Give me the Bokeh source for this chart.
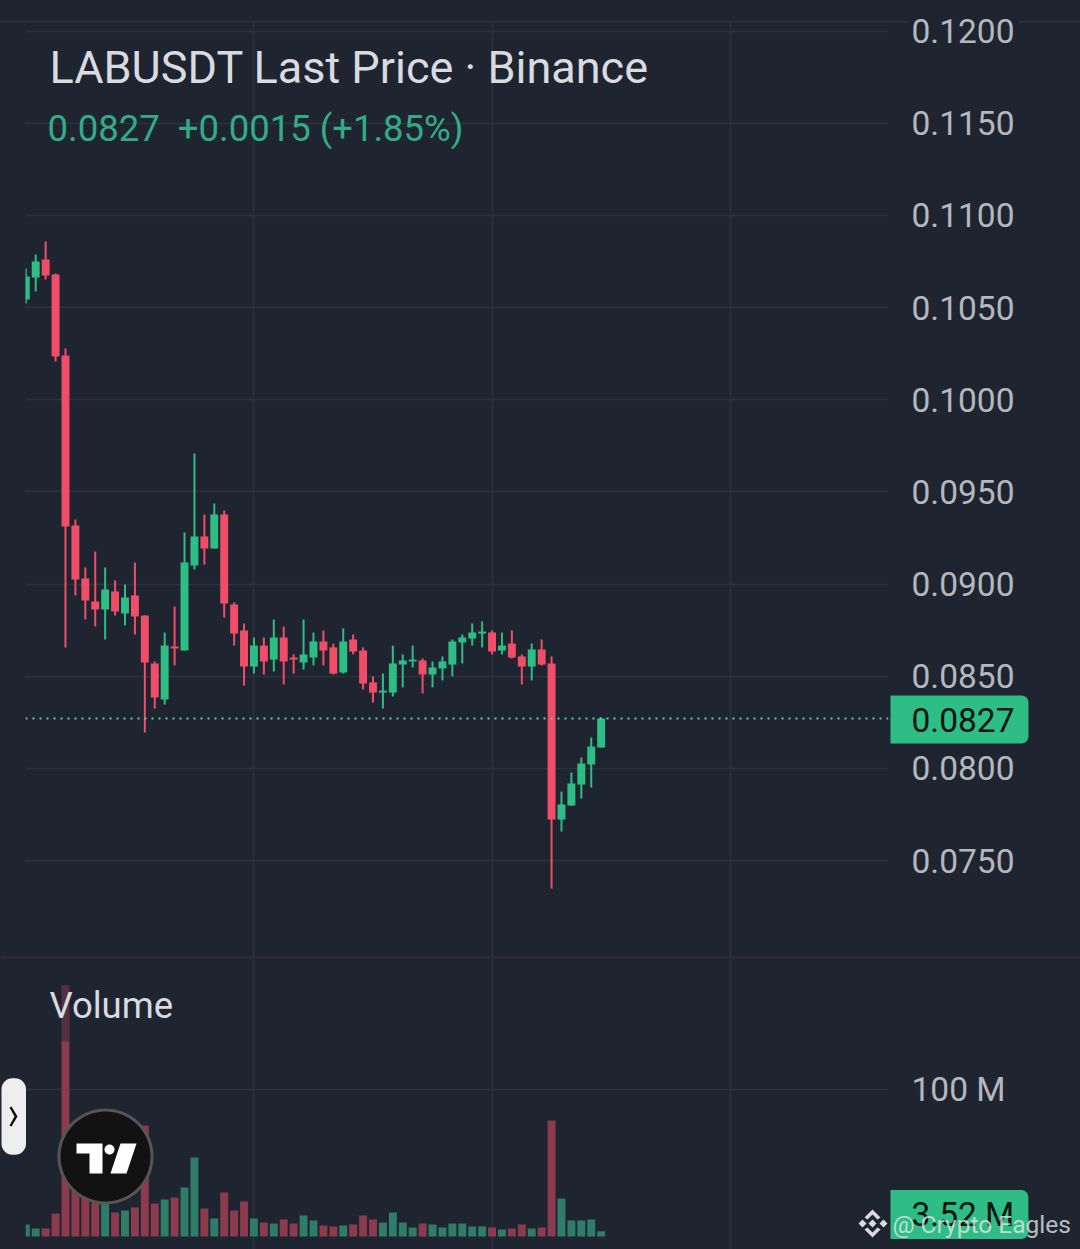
import numpy as np
from bokeh.embed import file_html
from bokeh.resources import INLINE
from bokeh.plotting import figure
from bokeh.layouts import column
from bokeh.models import (ColumnDataSource, FixedTicker, Label, Span, BoxAnnotation,
                          PolyAnnotation, NumeralTickFormatter, PrintfTickFormatter, Range1d)

# ---- data ----
price_open = [0.10543,0.10663,0.10760,0.10679,0.10240,0.09317,0.09030,0.08905,0.08862,0.08959,0.08840,0.08938,0.08829,0.08569,0.08373,0.08661,0.08639,0.09100,0.09258,0.09193,0.09377,0.08889,0.08748,0.08552,0.08666,0.08590,0.08710,0.08601,0.08574,0.08601,
              0.08688,0.08656,0.08520,0.08699,0.08639,0.08466,0.08411,0.08411,0.08563,0.08580,0.08585,0.08509,0.08542,0.08563,0.08683,0.08704,0.08731,0.08737,0.08639,0.08677,0.08607,0.08552,0.08645,0.08569,0.07722,0.07798,0.07912,0.08021,0.08113]
price_high = [0.10712,0.10788,0.10858,0.10684,0.10278,0.09350,0.09090,0.09176,0.09090,0.09019,0.08997,0.09117,0.08829,0.08580,0.08737,0.08878,0.09279,0.09708,0.09377,0.09437,0.09399,0.08900,0.08786,0.08710,0.08710,0.08807,0.08769,0.08618,0.08807,0.08737,
              0.08748,0.08677,0.08759,0.08726,0.08656,0.08498,0.08514,0.08666,0.08618,0.08666,0.08596,0.08580,0.08607,0.08699,0.08726,0.08786,0.08797,0.08748,0.08737,0.08748,0.08618,0.08677,0.08699,0.08607,0.07874,0.07977,0.08059,0.08167,0.08276]
price_low = [0.10522,0.10587,0.10652,0.10207,0.08656,0.08938,0.08807,0.08769,0.08699,0.08829,0.08775,0.08726,0.08194,0.08325,0.08346,0.08558,0.08639,0.09079,0.09106,0.09193,0.08818,0.08666,0.08449,0.08514,0.08509,0.08525,0.08455,0.08514,0.08536,0.08558,
             0.08558,0.08509,0.08514,0.08618,0.08428,0.08357,0.08325,0.08390,0.08439,0.08547,0.08406,0.08439,0.08477,0.08498,0.08569,0.08666,0.08656,0.08618,0.08618,0.08596,0.08455,0.08477,0.08558,0.07348,0.07657,0.07798,0.07836,0.07896,0.08113]
price_close = [0.10668,0.10750,0.10674,0.10234,0.09312,0.09024,0.08911,0.08862,0.08970,0.08851,0.08927,0.08824,0.08574,0.08384,0.08666,0.08650,0.09117,0.09258,0.09193,0.09377,0.08894,0.08731,0.08552,0.08666,0.08580,0.08710,0.08580,0.08590,0.08618,0.08688,
               0.08639,0.08514,0.08688,0.08634,0.08460,0.08411,0.08422,0.08569,0.08585,0.08590,0.08509,0.08547,0.08580,0.08688,0.08710,0.08737,0.08742,0.08634,0.08666,0.08601,0.08552,0.08645,0.08563,0.07722,0.07804,0.07918,0.08026,0.08118,0.08270]
volume_m = [8.2,5.4,5.4,15.6,170.7,40.8,30.6,27.2,23.8,16.3,17.7,19.7,75.5,22.4,25.2,26.5,33.3,53.7,19.0,12.2,29.9,17.7,23.8,12.2,9.5,8.8,11.6,8.8,14.3,10.9,
            7.5,6.8,7.5,8.2,14.3,11.6,9.5,16.3,9.5,6.1,8.8,8.2,6.1,8.8,8.8,6.8,6.8,6.1,4.8,5.4,8.2,5.4,6.1,78.9,25.8,10.9,10.9,11.6,3.52]
price_ticks = [0.12,0.115,0.11,0.105,0.10,0.095,0.09,0.085,0.08,0.075]
volume_ticks = [100]
time_ticks = [23,47,71]
last_price = 0.0827
last_volume_text = "3.52 M"
title_text = "LABUSDT Last Price · Binance"
change_text = "0.0827\u00a0\u00a0+0.0015 (+1.85%)"

BG = "#1f2530"; GRID = "#2c323d"; SEP = "#2c2b38"
UP = "#2ebd85"; DOWN = "#f04e68"; VUP = "#2f7d68"; VDOWN = "#8c3a4e"
AXIS_TXT = "#b4b7bd"; FONT = "Roboto"

n = len(price_open)
idx = np.arange(n)
up = [c >= o for o, c in zip(price_open, price_close)]
src = ColumnDataSource(dict(
    x=idx, o=price_open, h=price_high, l=price_low, c=price_close,
    top=[max(a, b) for a, b in zip(price_open, price_close)],
    bot=[min(a, b) for a, b in zip(price_open, price_close)],
    col=[UP if u else DOWN for u in up],
    vol=volume_m, vcol=[VUP if u else VDOWN for u in up]))

W, H = 1080, 1249
L, R = 25, 888              # frame edges on the page
STEP = 9.92; X0 = 25.3
xr = ((L - X0) / STEP, (R - X0) / STEP)

def base_fig(height, top_border, yr):
    f = figure(width=W, height=height, output_backend="svg", toolbar_location=None,
               x_range=Range1d(*xr), y_range=Range1d(*yr), y_axis_location="right",
               min_border_left=L, min_border_right=W - R,
               min_border_top=top_border, min_border_bottom=0,
               background_fill_color=BG, border_fill_color=BG, outline_line_color=None)
    f.xaxis.visible = False
    f.xgrid.ticker = FixedTicker(ticks=time_ticks)
    f.xgrid.grid_line_color = GRID; f.xgrid.grid_line_width = 1.5
    f.ygrid.grid_line_color = GRID; f.ygrid.grid_line_width = 1.5
    a = f.yaxis[0]
    a.axis_line_color = None; a.major_tick_line_color = None; a.minor_tick_line_color = None
    a.major_label_text_color = AXIS_TXT; a.major_label_text_font = FONT
    a.major_label_text_font_size = "33.5px"; a.major_label_standoff = 17
    return f

# ---- price pane: page y 0..957, frame top at 21 ----
def pv(y):  # page pixel -> price, for the range only
    return 0.075 + (860 - y) * 5.425e-5

p = base_fig(957, 21, (pv(957), pv(21)))
p.yaxis[0].ticker = FixedTicker(ticks=price_ticks)
p.yaxis[0].formatter = NumeralTickFormatter(format="0.0000")
p.ygrid.ticker = FixedTicker(ticks=price_ticks)
p.segment("x", "h", "x", "l", source=src, color="col", line_width=2)
p.vbar("x", 0.8, "bot", "top", source=src, fill_color="col", line_color=None)
p.add_layout(Span(location=last_price, dimension="width", line_color="#6fc7ac",
                  line_width=2, line_dash="2 5"))

# ---- volume pane: page y 957..1249, zero at 1236 ----
def vv(y):
    return (1236 - y) * 100 / 147

q = base_fig(292, 0, (vv(1249), vv(957)))
q.yaxis[0].ticker = FixedTicker(ticks=volume_ticks)
q.yaxis[0].formatter = PrintfTickFormatter(format="%d M")
q.ygrid.ticker = FixedTicker(ticks=volume_ticks)
q.vbar("x", 0.8, 0, "vol", source=src, fill_color="vcol", line_color=None)

# ---- transparent page-sized layer for everything that sits over both panes ----
r = figure(width=W, height=H, output_backend="svg", toolbar_location=None,
           x_range=Range1d(0, W), y_range=Range1d(H, 0), x_axis_location=None, y_axis_location=None,
           min_border_left=0, min_border_right=0, min_border_top=0, min_border_bottom=0, frame_align=False,
           background_fill_color=None, border_fill_color=None, outline_line_color=None,
           styles={"position": "absolute", "left": "0px", "top": "0px", "z-index": "10"})
r.grid.visible = False

def label(x, y, text, **kw):
    kw.setdefault("text_font", FONT)
    kw.setdefault("text_baseline", "middle")
    r.add_layout(Label(x=x, y=y, x_units="canvas", y_units="canvas", text=text, **kw))

def poly(xs, ys, color):
    r.add_layout(PolyAnnotation(xs=list(xs), ys=list(ys), xs_units="canvas", ys_units="canvas",
                                fill_color=color, fill_alpha=1, line_color=None))

def box(l, rt, t, b, color, alpha=1.0):
    r.add_layout(BoxAnnotation(left=l, right=rt, top=t, bottom=b, left_units="canvas", right_units="canvas",
                               top_units="canvas", bottom_units="canvas", fill_color=color, fill_alpha=alpha,
                               line_color=None))

def circle_pts(cx, cy, rad, m=72):
    t = np.linspace(0, 2 * np.pi, m, endpoint=False)
    return list(cx + rad * np.cos(t)), list(cy + rad * np.sin(t))

# top band, broken where the first axis label crosses it; pane separator
box(0, 908, 20.5, 22, GRID)
box(1018, W, 20.5, 22, GRID)
box(0, W, 956, 958, SEP)
label(49, 67, title_text, text_font_size="45px", text_color="#d9dbe0")
label(47, 128, change_text, text_font_size="36.5px", text_color="#33ab84")
label(890, 719, f"{last_price:.4f}", text_font_size="33.5px", text_color="#0c1512",
      background_fill_color=UP, border_radius=(0, 7, 7, 0), padding=(21, 14, 12, 12))

# veil of the legend row over the tall bar, legend text
box(50, 173, 985, 1041, BG, 0.5)
label(49, 1005, "Volume", text_font_size="36.5px", text_color="#d9dbe0")

# logo button
poly(*circle_pts(105, 1156, 48), "#555555")
poly(*circle_pts(105, 1156, 45), "#121212")
poly([76, 102, 102, 89, 89, 76], [1143, 1143, 1173, 1173, 1153, 1153], "#ffffff")
poly([120, 136, 126, 110], [1143, 1143, 1173, 1173], "#ffffff")
poly(*circle_pts(109, 1149, 5), "#ffffff")

# side handle with its chevron
label(1, 1116, " ", text_font_size="2px", text_color="#eeeeee", background_fill_color="#eeeeee",
      border_radius=11, padding=(0, 24, 37, 37))
poly([9, 11, 17, 11, 9, 14], [1107, 1106, 1116, 1126, 1125, 1116], "#111111")

# last volume pill + watermark
label(890, 1214, last_volume_text, text_font_size="33.5px", text_color="#0c1512",
      background_fill_color=UP, border_radius=(0, 7, 7, 0), padding=(21, 14, 5, 5))
label(892, 1224, "@ Crypto Eagles", text_font_size="24.5px", text_color="#e4e6ea", text_alpha=0.8)
WM = "#d9dadd"
poly([872, 876, 872, 868], [1219, 1223, 1227, 1223], WM)
poly([862, 866, 862, 858], [1219, 1223, 1227, 1223], WM)
poly([883, 887, 883, 879], [1219, 1223, 1227, 1223], WM)
poly([872, 880, 877, 872, 867, 864], [1209, 1217, 1219, 1214, 1219, 1217], WM)
poly([872, 880, 877, 872, 867, 864], [1237, 1229, 1227, 1232, 1227, 1229], WM)

html = file_html(column(p, q, r, spacing=0), INLINE)
html = html.replace("<head>", f"<head><style>html,body{{background:{BG};overflow:hidden}}</style>", 1)
open("out.html", "w").write(html)
